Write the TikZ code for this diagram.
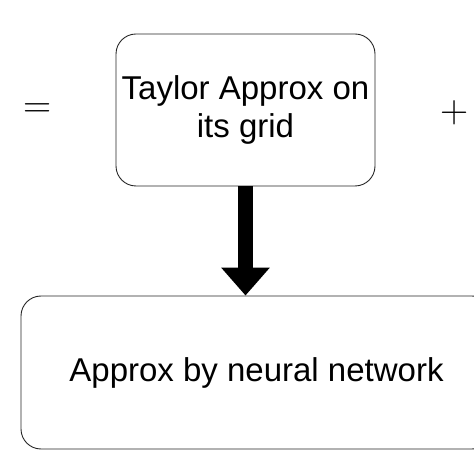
\documentclass[tikz,border=0pt]{standalone}
\usepackage{fontspec}
\setmainfont{Liberation Sans}
\newfontfamily\lmfont{Latin Modern Roman}
\usetikzlibrary{arrows.meta}
\tikzset{
  roundbox/.style={draw=black!85, line width=0.9pt, rounded corners=20pt, inner sep=0pt, align=center,
    font=\fontsize{33}{38}\selectfont},
  bigarrow/.style={line width=15pt, -{Triangle[width=47pt,length=28pt]}},
  mathsym/.style={inner sep=0pt, font=\lmfont\fontsize{39}{39}\selectfont}
}
\begin{document}
\begin{tikzpicture}[x=1pt,y=1pt]
\useasboundingbox (0,0) rectangle (474,474);
\clip (0,0) rectangle (474,474);
\node[roundbox, minimum width=259pt, minimum height=152pt] (taylor) at (245.5,364) {Taylor Approx on\\its grid};
\node[roundbox, minimum width=471pt, minimum height=153pt] (nn) at (256.5,101.5) {Approx by neural network};
\node[mathsym] (eq) at (37.5,363.5) {=};
\node[mathsym] (plus) at (455,361.5) {+};
\draw[bigarrow] (taylor.south -| 245.5,0) -- (nn.north -| 245.5,0);
\end{tikzpicture}
\end{document}
